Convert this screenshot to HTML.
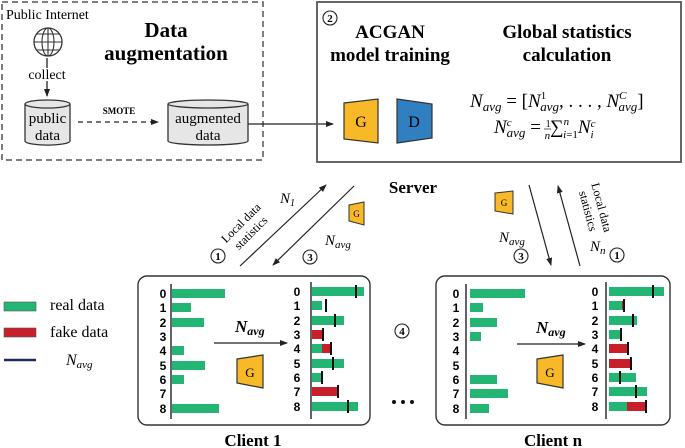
<!DOCTYPE html>
<html><head><meta charset="utf-8"><style>
html,body{margin:0;padding:0;background:#fff;}
svg{display:block;font-family:"Liberation Serif",serif;}
.b{font-family:"Liberation Sans",sans-serif;font-weight:bold;font-size:12px;}
</style></head><body>
<svg width="685" height="448" viewBox="0 0 685 448" xmlns="http://www.w3.org/2000/svg">
<defs>
<marker id="ah" markerWidth="8" markerHeight="8" refX="7" refY="4" orient="auto" markerUnits="userSpaceOnUse"><path d="M0,1 L8,4 L0,7 Z" fill="#222"/></marker>
</defs>
<rect x="2" y="2" width="261" height="158" fill="none" stroke="#555" stroke-width="1.5" stroke-dasharray="6,4"/>
<text x="6" y="19" font-size="14">Public Internet</text>
<circle cx="48" cy="42" r="14" fill="none" stroke="#333" stroke-width="1.3"/>
<ellipse cx="48" cy="42" rx="6" ry="14" fill="none" stroke="#333" stroke-width="1.1"/>
<line x1="34" y1="42" x2="62" y2="42" stroke="#333" stroke-width="1.1"/>
<line x1="36" y1="34" x2="60" y2="34" stroke="#333" stroke-width="1.1"/>
<line x1="36" y1="50" x2="60" y2="50" stroke="#333" stroke-width="1.1"/>
<line x1="48" y1="28" x2="48" y2="56" stroke="#333" stroke-width="1.1"/>
<line x1="47" y1="58" x2="47" y2="96" stroke="#222" stroke-width="1.3" marker-end="url(#ah)"/>
<rect x="30" y="68" width="36" height="13" fill="#fff"/>
<text x="47" y="79" font-size="14" text-anchor="middle">collect</text>
<text x="166" y="37" font-size="21" font-weight="bold" text-anchor="middle">Data</text>
<text x="166" y="60" font-size="21" font-weight="bold" text-anchor="middle">augmentation</text>
<path d="M25,104 L25,141 A22,4 0 0 0 70,141 L70,104" fill="#e6e6e6" stroke="#333" stroke-width="1.3"/>
<ellipse cx="47.5" cy="104" rx="22.5" ry="4" fill="#e6e6e6" stroke="#333" stroke-width="1.3"/>
<text x="47.5" y="123" font-size="15" text-anchor="middle">public</text>
<text x="47.5" y="140" font-size="15" text-anchor="middle">data</text>
<path d="M168,104 L168,141 A40,4 0 0 0 248,141 L248,104" fill="#e6e6e6" stroke="#333" stroke-width="1.3"/>
<ellipse cx="208" cy="104" rx="40" ry="4" fill="#e6e6e6" stroke="#333" stroke-width="1.3"/>
<text x="208" y="123" font-size="15" text-anchor="middle">augmented</text>
<text x="208" y="140" font-size="15" text-anchor="middle">data</text>
<text x="119" y="114" font-size="9" font-weight="bold" text-anchor="middle">SMOTE</text>
<line x1="78" y1="122" x2="158" y2="122" stroke="#222" stroke-width="1.3" stroke-dasharray="5,4" marker-end="url(#ah)"/>
<line x1="248" y1="124" x2="333" y2="124" stroke="#222" stroke-width="1.3" marker-end="url(#ah)"/>
<rect x="317" y="2" width="364" height="160" fill="none" stroke="#555" stroke-width="1.8"/>
<circle cx="330" cy="18" r="7" fill="none" stroke="#222" stroke-width="1.1"/>
<text x="330" y="22" font-size="11" font-weight="bold" text-anchor="middle">2</text>
<text x="390" y="38" font-size="19" font-weight="bold" text-anchor="middle">ACGAN</text>
<text x="390" y="61" font-size="19" font-weight="bold" text-anchor="middle">model training</text>
<text x="567" y="38" font-size="19" font-weight="bold" text-anchor="middle">Global statistics</text>
<text x="567" y="61" font-size="19" font-weight="bold" text-anchor="middle">calculation</text>
<path d="M344,103 L378,99 L378,143 L344,139 Z" fill="#f7b928" stroke="#333" stroke-width="1.2"/>
<text x="361" y="127" font-size="16" text-anchor="middle">G</text>
<path d="M397,99 L432,104 L432,138 L397,143 Z" fill="#2f7fc1" stroke="#333" stroke-width="1.2"/>
<text x="414" y="127" font-size="16" text-anchor="middle">D</text>
<text x="470" y="107" font-size="19" font-style="italic">N<tspan font-size="13" dy="4">avg</tspan><tspan dy="-4" font-style="normal"> = [</tspan>N<tspan font-size="11" font-style="normal" dy="-8">1</tspan><tspan font-size="13" dx="-6" dy="12">avg</tspan><tspan dy="-4" font-style="normal">, . . . , </tspan>N<tspan font-size="11" dy="-8">C</tspan><tspan font-size="13" dx="-8" dy="12">avg</tspan><tspan dy="-4" font-style="normal">]</tspan></text>
<text x="494" y="133" font-size="19" font-style="italic">N<tspan font-size="11" dy="-7">c</tspan><tspan font-size="13" dx="-5" dy="11">avg</tspan><tspan dy="-4" font-style="normal"> = </tspan><tspan font-size="10" font-style="normal" dy="-6">1</tspan><tspan font-size="11" dx="-6" dy="12">n</tspan><tspan font-style="normal" dy="-6">∑</tspan><tspan font-size="11" dy="-8">n</tspan><tspan font-size="11" dx="-6" dy="13">i</tspan><tspan font-size="11" font-style="normal">=1</tspan><tspan dy="-5">N</tspan><tspan font-size="11" dy="-6">c</tspan><tspan font-size="11" dx="-5" dy="11">i</tspan></text>
<line x1="544" y1="129" x2="551" y2="129" stroke="#333" stroke-width="0.8"/>
<text x="413" y="193" font-size="17" font-weight="bold" text-anchor="middle">Server</text>
<line x1="240" y1="266" x2="326" y2="185" stroke="#222" stroke-width="1.2" marker-end="url(#ah)"/>
<line x1="354" y1="186" x2="273" y2="265" stroke="#222" stroke-width="1.2" marker-end="url(#ah)"/>
<path d="M349,205 L364,202 L364,225 L349,221 Z" fill="#f7b928" stroke="#333" stroke-width="1"/>
<text x="356.5" y="217" font-size="9" text-anchor="middle">G</text>
<text x="280" y="203" font-size="15" font-style="italic">N<tspan font-size="10" dy="3">1</tspan></text>
<text x="325" y="245" font-size="15" font-style="italic">N<tspan font-size="11" dy="3">avg</tspan></text>
<g transform="translate(248,230) rotate(-45)"><text x="0" y="-6" font-size="12" text-anchor="middle">Local data</text><text x="0" y="8" font-size="12" text-anchor="middle">statistics</text></g>
<circle cx="218" cy="256" r="7" fill="none" stroke="#222" stroke-width="1.1"/><text x="218" y="260" font-size="11" font-weight="bold" text-anchor="middle">1</text>
<circle cx="310" cy="257" r="7" fill="none" stroke="#222" stroke-width="1.1"/><text x="310" y="261" font-size="11" font-weight="bold" text-anchor="middle">3</text>
<line x1="529" y1="185" x2="551" y2="265" stroke="#222" stroke-width="1.2" marker-end="url(#ah)"/>
<line x1="580" y1="266" x2="558" y2="186" stroke="#222" stroke-width="1.2" marker-end="url(#ah)"/>
<path d="M495,193 L513,191 L513,214 L495,211 Z" fill="#f7b928" stroke="#333" stroke-width="1"/>
<text x="504" y="206" font-size="9" text-anchor="middle">G</text>
<text x="499" y="242" font-size="15" font-style="italic">N<tspan font-size="11" dy="3">avg</tspan></text>
<text x="590" y="251" font-size="15" font-style="italic">N<tspan font-size="11" dy="3">n</tspan></text>
<g transform="translate(592,210) rotate(75)"><text x="0" y="-6" font-size="12" text-anchor="middle">Local data</text><text x="0" y="8" font-size="12" text-anchor="middle">statistics</text></g>
<circle cx="521" cy="256" r="7" fill="none" stroke="#222" stroke-width="1.1"/><text x="521" y="260" font-size="11" font-weight="bold" text-anchor="middle">3</text>
<circle cx="617" cy="255" r="7" fill="none" stroke="#222" stroke-width="1.1"/><text x="617" y="259" font-size="11" font-weight="bold" text-anchor="middle">1</text>
<rect x="4" y="302" width="32" height="9" fill="#23b573" stroke="#555" stroke-width="0.6"/>
<text x="50" y="310" font-size="16">real data</text>
<rect x="4" y="328" width="32" height="9" fill="#c8202a" stroke="#555" stroke-width="0.6"/>
<text x="50" y="337" font-size="16">fake data</text>
<line x1="4" y1="360" x2="36" y2="360" stroke="#1c2a5c" stroke-width="2.5"/>
<text x="66" y="365" font-size="16" font-style="italic">N<tspan font-size="11" dy="3">avg</tspan></text>
<circle cx="402" cy="331" r="7" fill="none" stroke="#222" stroke-width="1.1"/><text x="402" y="335" font-size="11" font-weight="bold" text-anchor="middle">4</text>
<circle cx="394" cy="402" r="2" fill="#111"/><circle cx="403" cy="402" r="2" fill="#111"/><circle cx="412" cy="402" r="2" fill="#111"/>
<rect x="138" y="276" width="232" height="149" rx="9" fill="none" stroke="#333" stroke-width="1.4"/>
<text x="253" y="446" font-size="17" font-weight="bold" text-anchor="middle">Client 1</text>
<line x1="171" y1="284" x2="171" y2="419" stroke="#222" stroke-width="1.4"/>
<line x1="311" y1="282" x2="311" y2="419" stroke="#222" stroke-width="1.4"/>
<g class="b" text-anchor="middle">
<text x="163" y="298">0</text><text x="163" y="312">1</text><text x="163" y="327">2</text><text x="163" y="341">3</text><text x="163" y="355">4</text><text x="163" y="370">5</text><text x="163" y="384">6</text><text x="163" y="398">7</text><text x="163" y="413">8</text>
<text x="297" y="296">0</text><text x="297" y="310">1</text><text x="297" y="325">2</text><text x="297" y="339">3</text><text x="297" y="353">4</text><text x="297" y="368">5</text><text x="297" y="382">6</text><text x="297" y="396">7</text><text x="297" y="411">8</text>
</g>
<g fill="#23b573">
<rect x="172" y="289" width="53" height="9"/><rect x="172" y="303" width="19" height="9"/><rect x="172" y="318" width="32" height="9"/>
<rect x="172" y="346" width="12" height="9"/><rect x="172" y="361" width="33" height="9"/><rect x="172" y="375" width="12" height="9"/><rect x="172" y="404" width="47" height="9"/>
<rect x="312" y="287" width="52" height="9"/><rect x="312" y="301" width="10" height="9"/><rect x="312" y="316" width="32" height="9"/>
<rect x="312" y="344" width="10" height="9"/><rect x="312" y="359" width="32" height="9"/><rect x="312" y="373" width="10" height="9"/><rect x="312" y="402" width="46" height="9"/>
</g>
<g fill="#c8202a">
<rect x="312" y="330" width="11" height="9"/><rect x="322" y="344" width="9" height="9"/><rect x="312" y="387" width="26" height="9"/>
</g>
<g stroke="#111" stroke-width="2">
<line x1="356" y1="285" x2="356" y2="298"/><line x1="326" y1="299" x2="326" y2="312"/><line x1="335" y1="314" x2="335" y2="327"/><line x1="323" y1="328" x2="323" y2="341"/><line x1="331" y1="342" x2="331" y2="355"/><line x1="333" y1="357" x2="333" y2="370"/><line x1="322" y1="371" x2="322" y2="384"/><line x1="338" y1="385" x2="338" y2="398"/><line x1="348" y1="400" x2="348" y2="413"/>
</g>
<line x1="214" y1="343" x2="287" y2="343" stroke="#222" stroke-width="1.2" marker-end="url(#ah)"/>
<text x="235" y="332" font-size="17" font-style="italic" font-weight="bold">N<tspan font-size="12" dy="3">avg</tspan></text>
<path d="M237,359 L263,355 L263,388 L237,383 Z" fill="#f7b928" stroke="#333" stroke-width="1.2"/>
<text x="250" y="377" font-size="13" text-anchor="middle">G</text>
<rect x="436" y="276" width="234" height="149" rx="9" fill="none" stroke="#333" stroke-width="1.4"/>
<text x="553" y="446" font-size="17" font-weight="bold" text-anchor="middle">Client n</text>
<line x1="466" y1="284" x2="466" y2="419" stroke="#222" stroke-width="1.4"/>
<line x1="606" y1="282" x2="606" y2="419" stroke="#222" stroke-width="1.4"/>
<g class="b" text-anchor="middle">
<text x="456" y="298">0</text><text x="456" y="312">1</text><text x="456" y="327">2</text><text x="456" y="341">3</text><text x="456" y="355">4</text><text x="456" y="370">5</text><text x="456" y="384">6</text><text x="456" y="398">7</text><text x="456" y="413">8</text>
<text x="595" y="296">0</text><text x="595" y="310">1</text><text x="595" y="325">2</text><text x="595" y="339">3</text><text x="595" y="353">4</text><text x="595" y="368">5</text><text x="595" y="382">6</text><text x="595" y="396">7</text><text x="595" y="411">8</text>
</g>
<g fill="#23b573">
<rect x="470" y="289" width="55" height="9"/><rect x="470" y="303" width="13" height="9"/><rect x="470" y="318" width="27" height="9"/><rect x="470" y="332" width="11" height="9"/>
<rect x="470" y="375" width="27" height="9"/><rect x="470" y="389" width="38" height="9"/><rect x="470" y="404" width="19" height="9"/>
<rect x="609" y="287" width="55" height="9"/><rect x="609" y="301" width="13" height="9"/><rect x="609" y="316" width="28" height="9"/><rect x="609" y="330" width="12" height="9"/>
<rect x="609" y="373" width="27" height="9"/><rect x="609" y="387" width="38" height="9"/><rect x="609" y="402" width="18" height="9"/>
</g>
<g fill="#c8202a">
<rect x="622" y="301" width="2" height="9"/><rect x="609" y="344" width="19" height="9"/><rect x="609" y="359" width="22" height="9"/><rect x="627" y="402" width="19" height="9"/>
</g>
<g stroke="#111" stroke-width="2">
<line x1="653" y1="285" x2="653" y2="298"/><line x1="624" y1="299" x2="624" y2="312"/><line x1="633" y1="314" x2="633" y2="327"/><line x1="621" y1="328" x2="621" y2="341"/><line x1="628" y1="342" x2="628" y2="355"/><line x1="631" y1="357" x2="631" y2="370"/><line x1="620" y1="371" x2="620" y2="384"/><line x1="636" y1="385" x2="636" y2="398"/><line x1="646" y1="400" x2="646" y2="413"/>
</g>
<line x1="517" y1="344" x2="585" y2="344" stroke="#222" stroke-width="1.2" marker-end="url(#ah)"/>
<text x="536" y="333" font-size="17" font-style="italic" font-weight="bold">N<tspan font-size="12" dy="3">avg</tspan></text>
<path d="M537,359 L563,355 L563,388 L537,383 Z" fill="#f7b928" stroke="#333" stroke-width="1.2"/>
<text x="550" y="377" font-size="13" text-anchor="middle">G</text>
</svg>
</body></html>
